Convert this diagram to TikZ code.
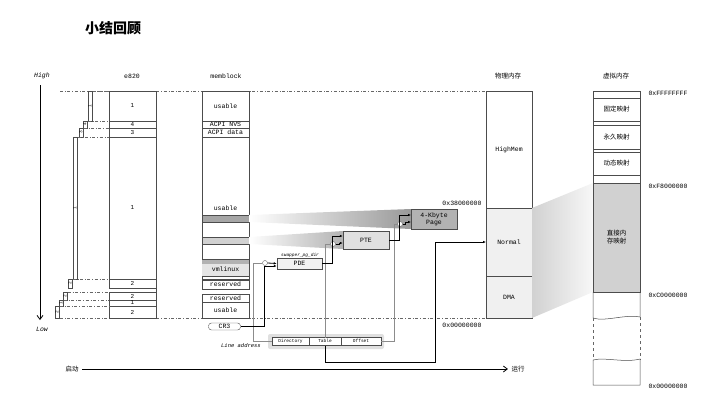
\documentclass[tikz,border=0pt]{standalone}
\usepackage{fontspec}
\setmonofont{Liberation Mono}
\newfontfamily\cjk{Noto Sans CJK SC}
\usetikzlibrary{arrows.meta,shadings}
\begin{document}
\begin{tikzpicture}[x=1pt,y=-1pt,
  mono/.style={font=\ttfamily\fontsize{6.5}{7}\selectfont},
  tiny/.style={font=\ttfamily\fontsize{4.5}{4.5}\selectfont,text height=3pt,text depth=0.8pt,inner sep=0pt},
  cell/.style={draw=black!70,line width=0.5pt},
  dd/.style={draw=black!60,dash dot,line width=0.4pt},
  glink/.style={draw=black!45,line width=0.6pt},
  blink/.style={draw=black,line width=0.8pt},
  ar/.style={-{Latex[length=3pt,width=2.5pt]}},
  cj/.style={font=\cjk\fontsize{6.5}{8}\selectfont},
  circ/.style={circle,draw=black!60,inner sep=0pt,minimum size=5pt,fill=white}]
\useasboundingbox (0,0) rectangle (720,405);
\node[font=\cjk\bfseries\fontsize{14}{14}\selectfont] (title) at (113,28) {小结回顾};
% axis left
\node[font=\ttfamily\itshape\fontsize{6.5}{7}\selectfont] (high) at (42,76) {High};
\node[font=\ttfamily\itshape\fontsize{6.5}{7}\selectfont] (low) at (42,329) {Low};
\coordinate (ha) at (40,85);
\draw[line width=0.8pt,-{Straight Barb[length=4pt,width=6pt]}] (ha) -- (40,320);
% dash-dot boundaries
\draw[dd] (60,91) -- (486,91);
\draw[dd] (60,318) -- (486,318);
% headers
\node[mono] (e820h) at (132,76) {e820};
\node[mono] (memh) at (226,76) {memblock};
\node[cj] (phh) at (508,76) {物理内存};
\node[cj] (vih) at (616,76) {虚拟内存};
% e820
\foreach \a/\b/\t in {91/121/1,121/128/4,128/137/3,137/279/1,279/288/2,292/300/2,300/306/1,306/318/2}{
  \draw[cell,fill=white] (109,\a) rectangle (156,\b);
  \node[font=\ttfamily\fontsize{6}{6}\selectfont] at (132.5,{(\a+\b)/2}) {\t};
}
\draw[black!70,dashed,line width=0.6pt] (156,91) -- (156,318);
% staircase brackets
\foreach \x/\a/\b/\t in {88/91/121/1,83/121/128/4,79/128/137/3,73/137/279/1,68/279/288/2,63/292/300/2,59/300/306/1,55/306/318/2}{
  \draw[cell,fill=white] (\x,\a) rectangle (\x+4.5,\b);
  \node[tiny,rotate=90] at (\x+2.25,{(\a+\b)/2}) {\t};
  \draw[dd] (\x+4.5,\a) -- (109,\a);
}
% memblock
\draw[cell] (202,91) rectangle (249,279);
\draw[cell] (202,121) -- (249,121); \draw[cell] (202,128) -- (249,128); \draw[cell] (202,137) -- (249,137);
\node[mono] at (225.5,106) {usable};
\node[mono] at (225.5,124.5) {ACPI NVS};
\node[mono] at (225.5,132.5) {ACPI data};
\node[mono] at (225.5,208) {usable};
\draw[cell,fill=black!35] (202,215) rectangle (249,222);
\draw[cell,fill=black!18] (202,237) rectangle (249,244);
\fill[black!10] (202,259) rectangle (249,276);
\fill[black!30] (202,259) rectangle (249,264);
\draw[cell] (202,259) -- (249,259); \draw[cell] (202,276) -- (249,276);
\node[mono] at (225.5,269) {vmlinux};
\draw[cell] (202,280) rectangle (249,289); \node[mono] at (225.5,284.5) {reserved};
\draw[cell] (202,294) rectangle (249,302); \node[mono] at (225.5,298) {reserved};
\draw[cell] (202,302) rectangle (249,318); \node[mono] at (225.5,310.5) {usable};
% beams
\shade[left color=white,right color=black!40] (249,215) -- (411,209) -- (411,229) -- (249,222) -- cycle;
\shade[left color=white,right color=black!30] (249,237) -- (343,231) -- (343,249) -- (249,244) -- cycle;
% physical memory
\draw[cell,fill=white] (486,91) rectangle (532,208);
\draw[cell,fill=black!6] (486,208) rectangle (532,276);
\draw[cell,fill=black!6] (486,276) rectangle (532,318);
\node[mono] (hm) at (509,150) {HighMem};
\node[mono] (nm) at (509,242) {Normal};
\node[mono] (dma) at (509,297) {DMA};
\node[mono,anchor=east] at (485,203) {0x38000000};
\node[mono,anchor=east] at (485,325) {0x00000000};
% gradient to virtual
\shade[left color=black!18,right color=black!3] (532,208) -- (593,183) -- (593,292) -- (532,318) -- cycle;
% virtual memory
\draw[cell,fill=white] (593,91) rectangle (640,98);
\draw[cell,fill=white] (593,98) rectangle (640,121); \node[cj] at (616.5,109.5) {固定映射};
\draw[cell,fill=white] (593,121) rectangle (640,125);
\draw[cell,fill=white] (593,125) rectangle (640,149); \node[cj] at (616.5,137) {永久映射};
\draw[cell,fill=white] (593,149) rectangle (640,152);
\draw[cell,fill=white] (593,152) rectangle (640,175); \node[cj] at (616.5,163.5) {动态映射};
\draw[cell,fill=white] (593,175) rectangle (640,183);
\draw[cell,fill=black!18] (593,183) rectangle (640,292);
\node[cj,align=center] at (616.5,237) {直接内\\存映射};
\draw[cell] (593,292) -- (593,318) .. controls (605,322) and (625,314) .. (640,317) -- (640,292);
\draw[black!60,dashed,line width=0.5pt] (593,318) -- (593,360);
\draw[black!60,dashed,line width=0.5pt] (640,317) -- (640,360);
\draw[cell] (593,360) .. controls (605,357) and (625,363) .. (640,359) -- (640,385) -- (593,385) -- cycle;
\node[mono,anchor=west] at (645,93) {0xFFFFFFFF};
\node[mono,anchor=west] at (645,186) {0xF8000000};
\node[mono,anchor=west] at (645,295) {0xC0000000};
\node[mono,anchor=west] at (645,386) {0x00000000};
% page walk boxes
\node[cell,fill=black!5,minimum width=45pt,minimum height=10.5pt,inner sep=0pt,mono] (pde) at (299.5,263.5) {PDE};
\node[font=\ttfamily\itshape\fontsize{4.5}{4.5}\selectfont] at (300,255) {swapper\_pg\_dir};
\node[cell,fill=black!12,minimum width=46pt,minimum height=18.5pt,inner sep=0pt,mono] (pte) at (366,240) {PTE};
\node[cell,fill=black!30,minimum width=45.5pt,minimum height=20pt,inner sep=0pt,mono,align=center] (pg) at (434,219) {4-Kbyte\\Page};
\node[circ] (c1) at (265,263) {};
\node[circ] (c2) at (333,244) {};
\node[circ] (c3) at (400,224) {};
% line address
\fill[black!12,rounded corners=2pt] (268,334) rectangle (384,349);
\draw[cell,fill=white] (272,337.5) rectangle (381,345.5);
\draw[cell] (309,337.5) -- (309,345.5); \draw[cell] (341,337.5) -- (341,345.5);
\node[tiny] (dir) at (290.5,341.5) {Directory};
\node[tiny] (tab) at (325,341.5) {Table};
\node[tiny] (off) at (361,341.5) {Offset};
\node[font=\ttfamily\itshape\fontsize{5.5}{6}\selectfont] at (241,346) {Line address};
\coordinate (tabt) at (325,337.5); \coordinate (tabb) at (325,345.5);
% CR3
\node[draw=black!70,rounded corners=3pt,minimum width=32pt,minimum height=7pt,inner sep=0pt,mono] (cr3) at (224.5,326.5) {CR3};
% gray links
\draw[glink] (272,341.5) -- (253,341.5) -- (253,263) -- (c1.west);
\draw[glink] (tabt) -- (325,244) -- (c2.west);
\draw[glink] (381,341.5) -- (394,341.5) -- (394,224) -- (c3.west);
% circle to boxes
\draw[blink,ar] (c1.east) -- (pde.west);
\draw[blink,ar] (c2.east) -- ++(4,0) |- ([yshift=-3pt]pte.west);
\draw[blink,ar] (c3.east) -- ++(3,0) |- ([yshift=-3pt]pg.west);
% black links
\draw[blink,ar] (cr3.east) -- (264,326.5) -- (264,266) -- ([yshift=-2.5pt]pde.west);
\draw[blink,ar] (pde.east) -- (332,263.5) |- ([yshift=4pt]pte.west);
\draw[blink,ar] (pte.east) -- (399,240) |- ([yshift=4pt]pg.west);
\draw[blink,ar] (tabb) -- (325,362) -- (435,362) -- (435,242) -- (486,242);
% bottom axis
\node[cj] (qd) at (72,369) {启动};
\node[cj] (yx) at (518,369) {运行};
\draw[line width=0.8pt,-{Straight Barb[length=4pt,width=6pt]}] (qd.east) -- (yx.west);
\end{tikzpicture}
\end{document}
